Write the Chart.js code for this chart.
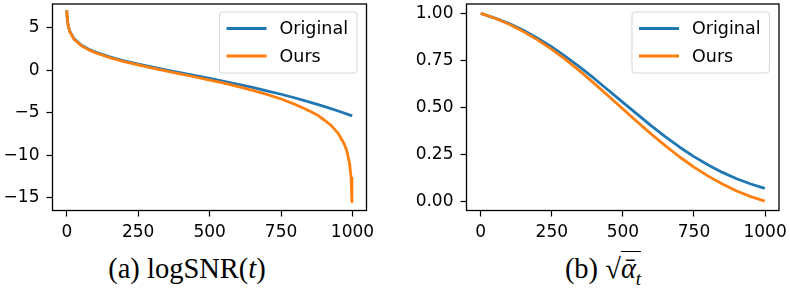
<!DOCTYPE html>
<html>
<head>
<meta charset="utf-8">
<script src="https://cdn.jsdelivr.net/npm/chart.js@4.4.0/dist/chart.umd.min.js"></script>
<style>
    body { margin: 0; background: #fff; width: 790px; height: 296px; overflow: hidden; position: relative; }
    canvas { position: absolute; top: 0; }
    #snrChart { left: 0; }
    #alphaChart { left: 395px; }
    .caption {
        position: absolute; top: 253px; transform: translateX(-50%); white-space: nowrap;
        font-family: "Liberation Serif", "DejaVu Serif", serif; font-size: 28.5px; color: #000;
    }
    .caption sub { font-size: 19px; }
    .vinc { border-top: 1.5px solid #000; padding-top: 1px; }
</style>
</head>
<body>
<canvas id="snrChart" width="395" height="250"></canvas>
<canvas id="alphaChart" width="395" height="250"></canvas>
<div class="caption" style="left:187px">(a) logSNR(<i>t</i>)</div>
<div class="caption" style="left:603px">(b) √<span class="vinc"><i>ᾱ</i><sub><i>t</i></sub></span></div>

<script>
// logSNR(t)
var snrStepsOriginal = [0, 1, 2, 5, 10, 25, 50, 75, 100, 150, 200, 250, 300, 350, 400, 450, 500, 550, 600, 650, 700, 750, 800, 850, 900, 950, 999];
var snrOriginal = [7.07, 6.37, 5.96, 5.25, 4.64, 3.73, 2.98, 2.50, 2.14, 1.57, 1.12, 0.73, 0.37, 0.03, -0.30, -0.63, -0.96, -1.30, -1.65, -2.02, -2.41, -2.82, -3.26, -3.74, -4.24, -4.79, -5.36];
var snrStepsOurs = [0, 1, 2, 5, 10, 25, 50, 75, 100, 150, 200, 250, 300, 350, 400, 450, 500, 550, 600, 650, 700, 750, 800, 850, 875, 900, 925, 950, 970, 980, 990, 995, 998];
var snrOurs = [7.07, 6.36, 5.94, 5.21, 4.57, 3.66, 2.91, 2.43, 2.06, 1.49, 1.03, 0.63, 0.26, -0.09, -0.44, -0.79, -1.15, -1.52, -1.92, -2.36, -2.84, -3.38, -4.02, -4.80, -5.22, -5.82, -6.48, -7.43, -8.59, -9.48, -11.01, -12.67, -15.47];
var snrTicks = [-15, -10, -5, 0, 5];

// sqrt(alpha_bar_t)
var alphaSteps = [0, 50, 100, 150, 200, 250, 300, 350, 400, 450, 500, 550, 600, 650, 700, 750, 800, 850, 900, 950, 999];
var alphaOriginal = [1.000, 0.975, 0.946, 0.910, 0.868, 0.821, 0.768, 0.712, 0.652, 0.589, 0.526, 0.463, 0.401, 0.342, 0.287, 0.237, 0.192, 0.153, 0.119, 0.091, 0.068];
var alphaOurs = [1.000, 0.974, 0.942, 0.903, 0.859, 0.808, 0.752, 0.691, 0.626, 0.559, 0.491, 0.423, 0.357, 0.294, 0.235, 0.181, 0.133, 0.091, 0.054, 0.024, 0.000];
var alphaTicks = [0, 0.25, 0.5, 0.75, 1];

var stepTicks = [0, 250, 500, 750, 1000];
var seriesNames = ["Original", "Ours"];
var seriesColors = ["#1f77b4", "#ff7f0e"];

var tickFont = { family: "DejaVu Sans", size: 17 };

function to_points(xs, ys) {
    return xs.map((x, i) => ({ x: x, y: ys[i] }));
}

function minus_format(v) {
    return v < 0 ? "\u2212" + Math.abs(v) : String(v);
}

// axes frame + legend box like matplotlib
var frameAndLegend = {
    id: "frameAndLegend",
    afterDatasetsDraw(chart) {
        var ctx = chart.ctx;
        var a = chart.chartArea;
        ctx.save();
        ctx.strokeStyle = "#000";
        ctx.lineWidth = 1.3;
        ctx.strokeRect(a.left, a.top, a.right - a.left, a.bottom - a.top);

        ctx.font = "17.5px 'DejaVu Sans'";
        var sets = chart.data.datasets;
        var textW = Math.max(...sets.map((d) => ctx.measureText(d.label).width));
        var w = 60 + textW + 9;
        var h = 61;
        var x0 = a.right - 9.5 - w;
        var y0 = a.top + 8;
        ctx.beginPath();
        ctx.roundRect(x0, y0, w, h, 3);
        ctx.fillStyle = "rgba(255,255,255,0.8)";
        ctx.fill();
        ctx.strokeStyle = "#d6d6d6";
        ctx.lineWidth = 1;
        ctx.stroke();
        sets.forEach((d, i) => {
            var y = y0 + 16.5 + i * 27.5;
            ctx.beginPath();
            ctx.moveTo(x0 + 7, y);
            ctx.lineTo(x0 + 47, y);
            ctx.strokeStyle = d.borderColor;
            ctx.lineWidth = 2.8;
            ctx.stroke();
            ctx.fillStyle = "#000";
            ctx.textBaseline = "middle";
            ctx.textAlign = "left";
            ctx.fillText(d.label, x0 + 60, y + 1);
        });
        ctx.restore();
    },
};

function make_chart(id, xsA, ysA, xsB, ysB, yMin, yMax, yTicks, yFormat, yWidth, padRight) {
    var datasets = [
        { label: seriesNames[0], data: to_points(xsA, ysA), borderColor: seriesColors[0], order: 1 },
        { label: seriesNames[1], data: to_points(xsB, ysB), borderColor: seriesColors[1], order: 0 },
    ];
    var tickGrid = { display: true, drawOnChartArea: false, drawTicks: true, tickLength: 6, tickWidth: 1.2, color: "#000" };
    return new Chart(id, {
        type: "line",
        data: { datasets: datasets },
        options: {
            responsive: false,
            animation: false,
            devicePixelRatio: 1,
            layout: { padding: { top: 4, right: padRight, left: 0, bottom: 0 } },
            elements: {
                point: { radius: 0 },
                line: { borderWidth: 2.8, tension: 0, borderCapStyle: "butt", borderJoinStyle: "round" },
            },
            plugins: { legend: { display: false }, tooltip: { enabled: false } },
            scales: {
                x: {
                    type: "linear",
                    min: -50,
                    max: 1049,
                    grid: tickGrid,
                    border: { display: false },
                    afterBuildTicks: (s) => { s.ticks = stepTicks.map((v) => ({ value: v })); },
                    afterFit: (s) => { s.height = 39.5; s.paddingLeft = 0; s.paddingRight = 0; },
                    ticks: { font: tickFont, color: "#000", padding: 6, maxRotation: 0, autoSkip: false, callback: (v) => String(v) },
                },
                y: {
                    type: "linear",
                    min: yMin,
                    max: yMax,
                    grid: tickGrid,
                    border: { display: false },
                    afterBuildTicks: (s) => { s.ticks = yTicks.map((v) => ({ value: v })); },
                    afterFit: (s) => { s.width = yWidth; s.paddingTop = 0; s.paddingBottom = 0; },
                    ticks: { font: tickFont, color: "#000", padding: 7, autoSkip: false, callback: yFormat },
                },
            },
        },
        plugins: [frameAndLegend],
    });
}

make_chart("snrChart", snrStepsOriginal, snrOriginal, snrStepsOurs, snrOurs, -16.5, 7.8, snrTicks, minus_format, 52.5, 28.5);
make_chart("alphaChart", alphaSteps, alphaOriginal, alphaSteps, alphaOurs, -0.05, 1.05, alphaTicks, (v) => v.toFixed(2), 71.5, 11);
</script>
</body>
</html>
